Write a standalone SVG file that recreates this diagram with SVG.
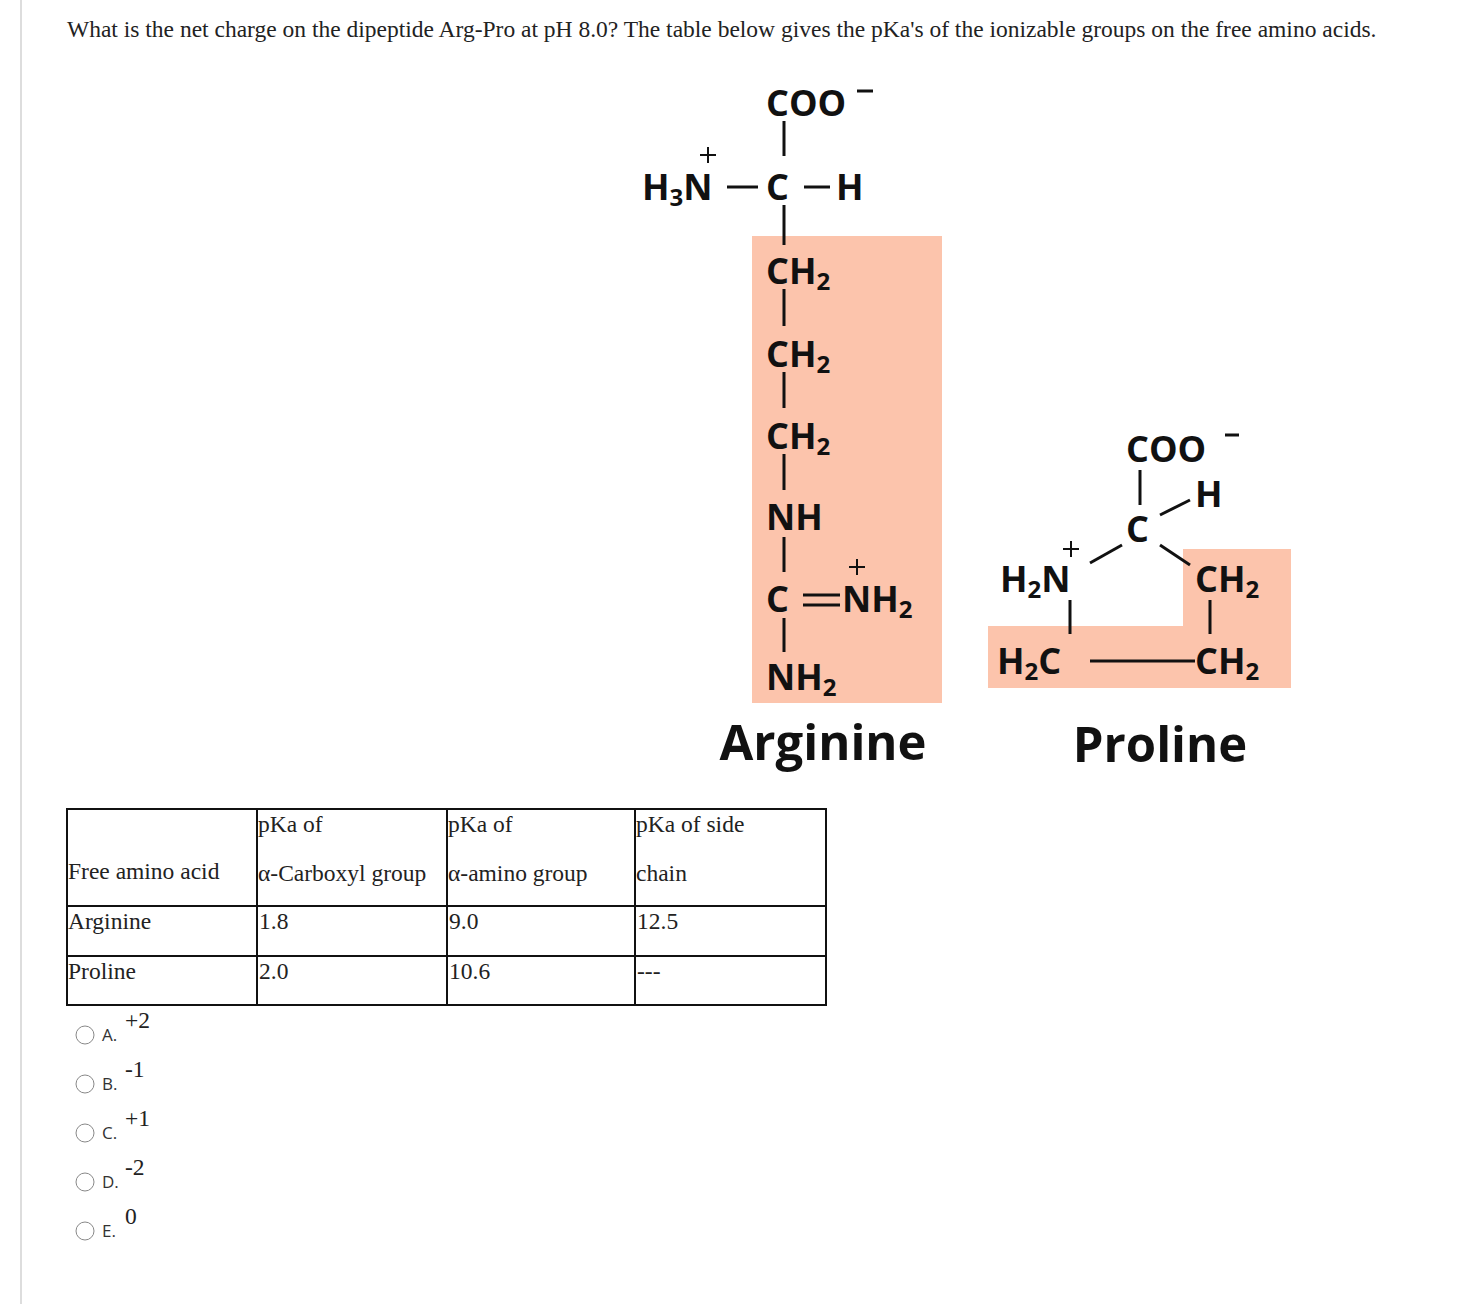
<svg xmlns="http://www.w3.org/2000/svg" width="1469" height="1304" viewBox="0 0 1469 1304">
<style>
.q{font-family:"Liberation Serif",serif;font-size:23.5px;fill:#222}
.m{font-family:"Open Sans","DejaVu Sans",sans-serif;font-weight:bold;font-size:36px;fill:#111}
.s{font-size:24px}
.big{font-family:"Open Sans","DejaVu Sans",sans-serif;font-weight:bold;font-size:49px;fill:#111}
.b{stroke:#111;stroke-width:3;fill:none}
.p{stroke:#111;stroke-width:2;fill:none}
.t{stroke:#111;stroke-width:2;fill:none}
.o{font-family:"Open Sans","DejaVu Sans",sans-serif;font-size:17px;fill:#333}
.r{fill:#fff;stroke:#888;stroke-width:1}
</style>
<rect width="1469" height="1304" fill="#fff"/>
<line x1="21" y1="0" x2="21" y2="1304" stroke="#ddd" stroke-width="2"/>
<text class="q" x="67" y="37">What is the net charge on the dipeptide Arg-Pro at pH 8.0? The table below gives the pKa's of the ionizable groups on the free amino acids.</text>
<g id="arginine">
<rect x="752" y="236" width="190" height="467" fill="#fcc4ac"/>
<text class="m" x="766" y="116">COO</text><line class="b" x1="857" y1="91" x2="873" y2="91"/>
<line class="b" x1="784" y1="121" x2="784" y2="156"/>
<text class="m" x="642" y="200">H<tspan class="s" dy="6">3</tspan><tspan dy="-6">N</tspan></text>
<path class="p" d="M700,155h16M708,147v16"/>
<line class="b" x1="727" y1="187" x2="758" y2="187"/>
<text class="m" x="766" y="200">C</text>
<line class="b" x1="804" y1="187" x2="830" y2="187"/>
<text class="m" x="836" y="200">H</text>
<line class="b" x1="784" y1="205" x2="784" y2="245"/>
<text class="m" x="766" y="284">CH<tspan class="s" dy="6">2</tspan></text>
<line class="b" x1="784" y1="289" x2="784" y2="326"/>
<text class="m" x="766" y="367">CH<tspan class="s" dy="6">2</tspan></text>
<line class="b" x1="784" y1="372" x2="784" y2="408"/>
<text class="m" x="766" y="449">CH<tspan class="s" dy="6">2</tspan></text>
<line class="b" x1="784" y1="454" x2="784" y2="490"/>
<text class="m" x="766" y="530">NH</text>
<line class="b" x1="784" y1="537" x2="784" y2="572"/>
<text class="m" x="766" y="612">C</text>
<line class="b" x1="803" y1="595" x2="840" y2="595"/>
<line class="b" x1="803" y1="605" x2="840" y2="605"/>
<text class="m" x="842" y="612">NH<tspan class="s" dy="6">2</tspan></text>
<path class="p" d="M849,567h16M857,559v16"/>
<line class="b" x1="784" y1="618" x2="784" y2="652"/>
<text class="m" x="766" y="690">NH<tspan class="s" dy="6">2</tspan></text>
<text class="big" x="823" y="760" text-anchor="middle">Arginine</text>
</g>
<g id="proline">
<polygon points="988,626 1183,626 1183,549 1291,549 1291,688 988,688" fill="#fcc4ac"/>
<text class="m" x="1126" y="462">COO</text><line class="b" x1="1225" y1="435" x2="1239" y2="435"/>
<line class="b" x1="1140" y1="470" x2="1140" y2="505"/>
<line class="b" x1="1160" y1="515" x2="1190" y2="500"/>
<text class="m" x="1195" y="507">H</text>
<text class="m" x="1126" y="542">C</text>
<line class="b" x1="1090" y1="563" x2="1122" y2="545"/>
<line class="b" x1="1160" y1="545" x2="1190" y2="565"/>
<text class="m" x="1000" y="592">H<tspan class="s" dy="6">2</tspan><tspan dy="-6">N</tspan></text>
<path class="p" d="M1063,549h16M1071,541v16"/>
<text class="m" x="1195" y="592">CH<tspan class="s" dy="6">2</tspan></text>
<line class="b" x1="1070" y1="600" x2="1070" y2="634"/>
<line class="b" x1="1210" y1="600" x2="1210" y2="634"/>
<text class="m" x="997" y="674">H<tspan class="s" dy="6">2</tspan><tspan dy="-6">C</tspan></text>
<line class="b" x1="1090" y1="661" x2="1195" y2="661"/>
<text class="m" x="1195" y="674">CH<tspan class="s" dy="6">2</tspan></text>
<text class="big" x="1160" y="762" text-anchor="middle">Proline</text>
</g>
<g id="table">
<rect class="t" x="67" y="809" width="759" height="196"/>
<line class="t" x1="67" y1="906" x2="826" y2="906"/>
<line class="t" x1="67" y1="956" x2="826" y2="956"/>
<line class="t" x1="257" y1="809" x2="257" y2="1005"/>
<line class="t" x1="447" y1="809" x2="447" y2="1005"/>
<line class="t" x1="635" y1="809" x2="635" y2="1005"/>
<text class="q" x="258" y="832">pKa of</text>
<text class="q" x="448" y="832">pKa of</text>
<text class="q" x="636" y="832">pKa of side</text>
<text class="q" x="68" y="879">Free amino acid</text>
<text class="q" x="258" y="881">α-Carboxyl group</text>
<text class="q" x="448" y="881">α-amino group</text>
<text class="q" x="636" y="881">chain</text>
<text class="q" x="68" y="929">Arginine</text>
<text class="q" x="259" y="929">1.8</text>
<text class="q" x="449" y="929">9.0</text>
<text class="q" x="637" y="929">12.5</text>
<text class="q" x="68" y="979">Proline</text>
<text class="q" x="259" y="979">2.0</text>
<text class="q" x="449" y="979">10.6</text>
<text class="q" x="637" y="979">---</text>
</g>
<g id="options">
<circle class="r" cx="85" cy="1035" r="9"/><text class="o" x="102" y="1041">A.</text><text class="q" x="125" y="1028">+2</text>
<circle class="r" cx="85" cy="1084" r="9"/><text class="o" x="102" y="1090">B.</text><text class="q" x="125" y="1077">-1</text>
<circle class="r" cx="85" cy="1133" r="9"/><text class="o" x="102" y="1139">C.</text><text class="q" x="125" y="1126">+1</text>
<circle class="r" cx="85" cy="1182" r="9"/><text class="o" x="102" y="1188">D.</text><text class="q" x="125" y="1175">-2</text>
<circle class="r" cx="85" cy="1231" r="9"/><text class="o" x="102" y="1237">E.</text><text class="q" x="125" y="1224">0</text>
</g>
</svg>
